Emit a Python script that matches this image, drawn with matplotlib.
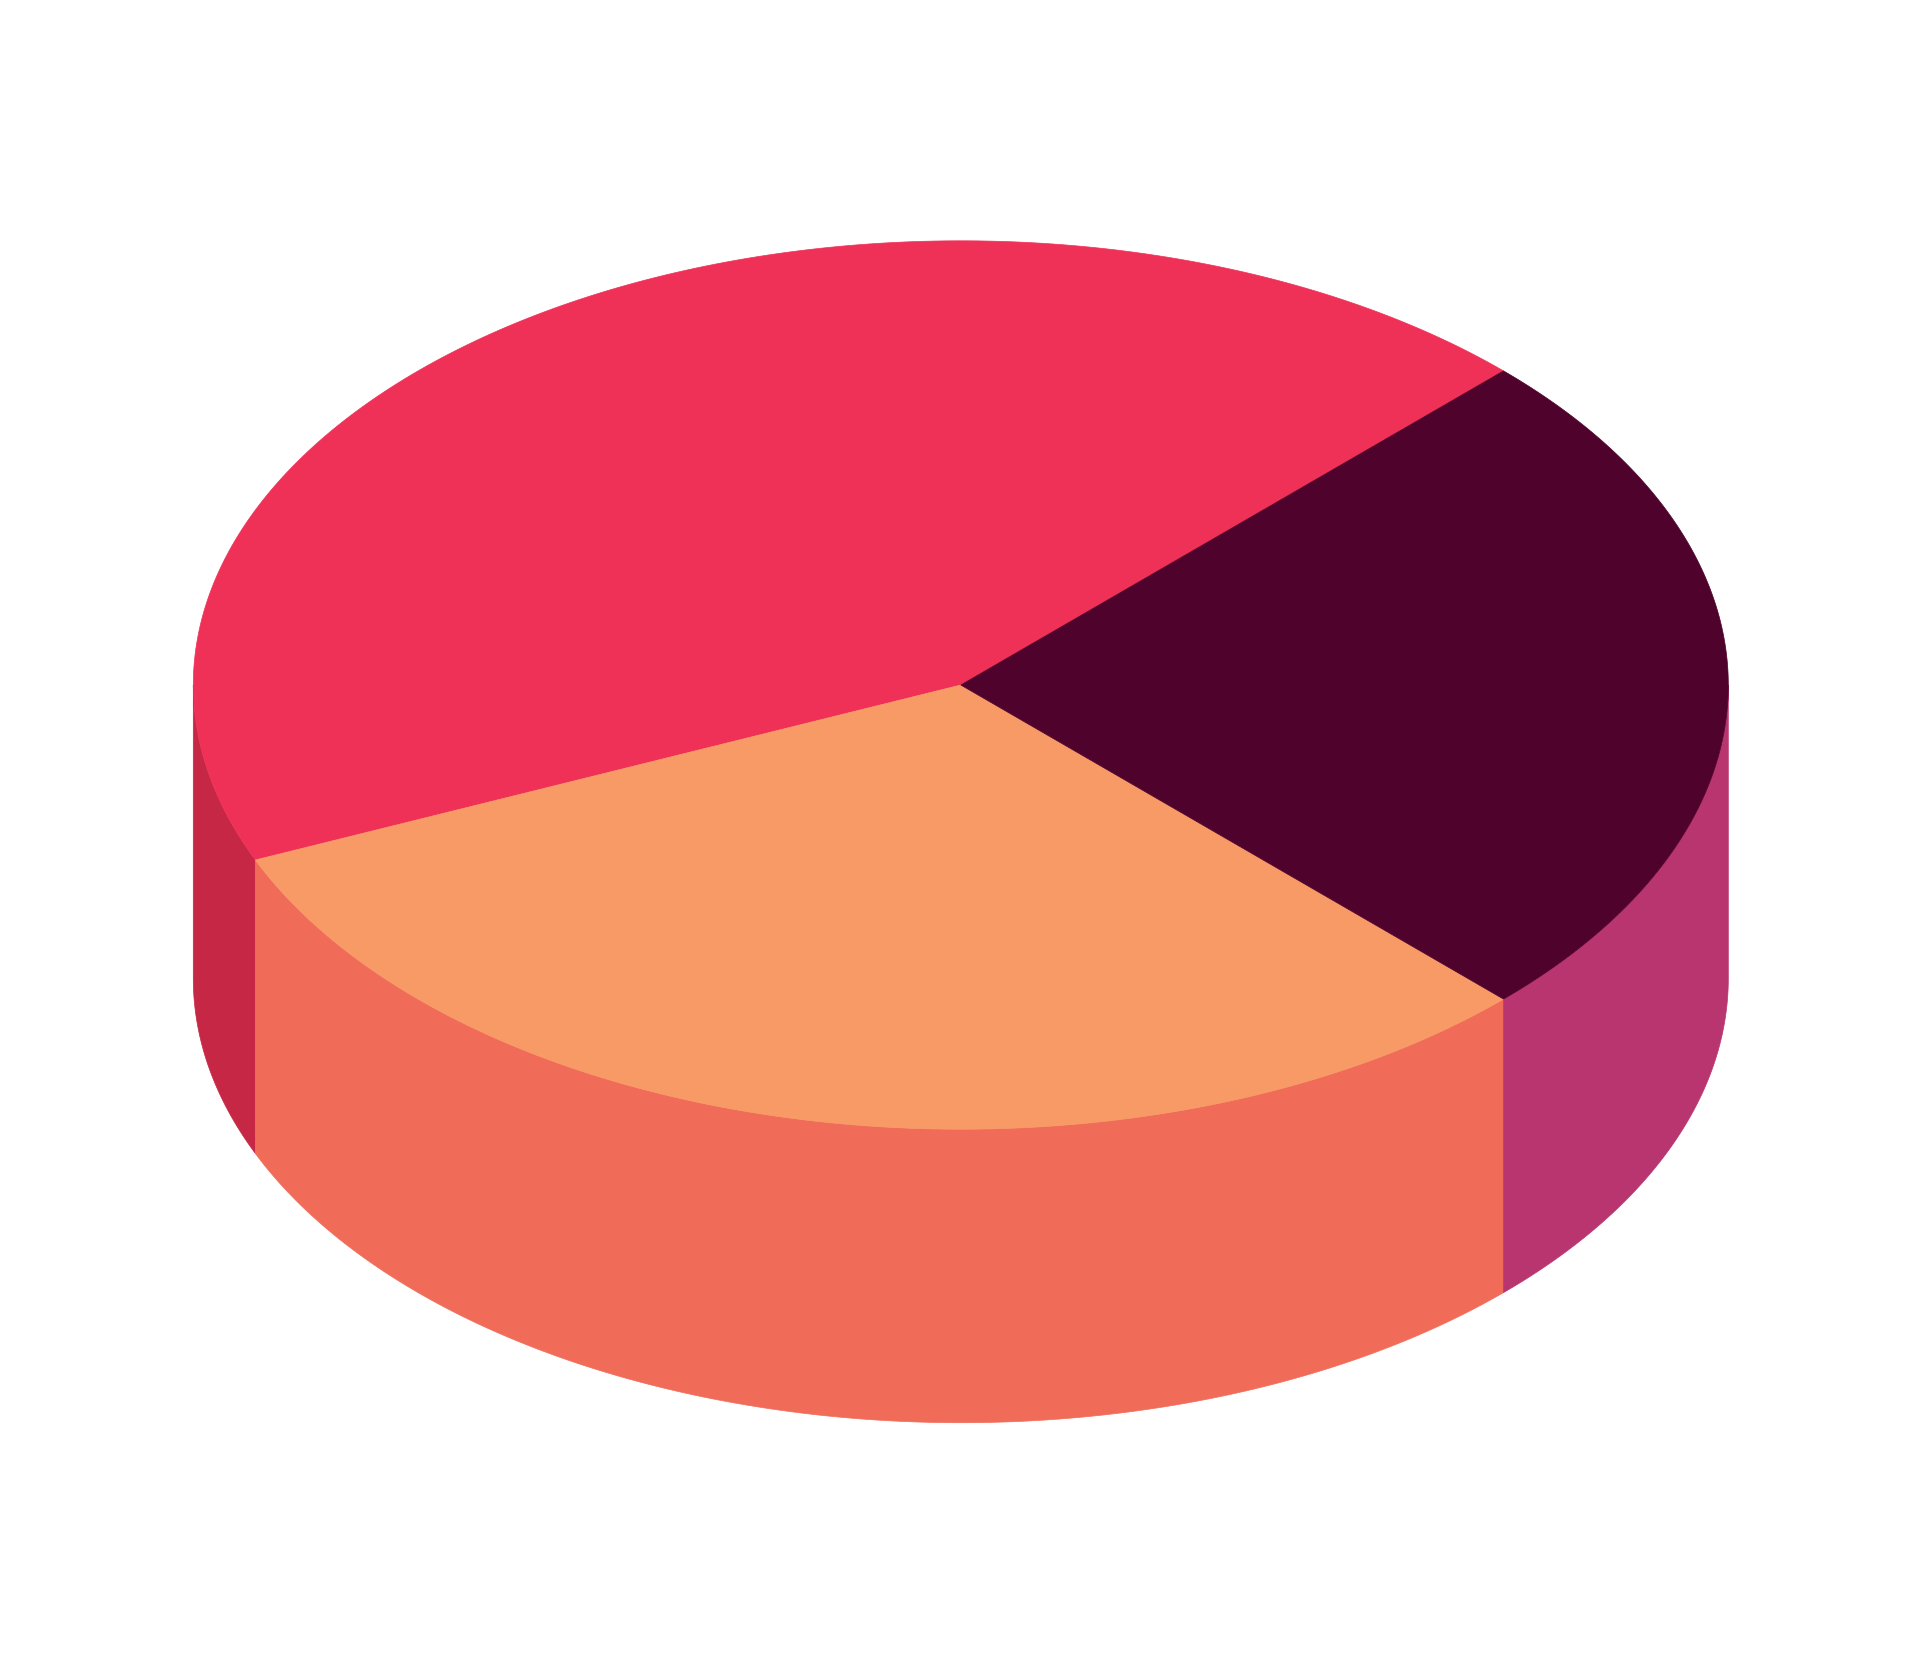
#!/usr/bin/env python3
import numpy as np
import matplotlib
matplotlib.use('Agg')
import matplotlib.pyplot as plt

# slice sizes in degrees, going counter-clockwise from the upper right
slices = ['red', 'orange', 'dark']
values = [158.2, 111.8, 90]
top_colors = ['#EF3158', '#F89A66', '#4F022B']
side_colors = ['#C62744', '#F16B59', '#B93570']

START = 45
CX, CY = 960.8, 685
RX, RY = 767.5, 444.2
DEPTH = 293.5


def arc(a0, a1, n=200):
	t = np.radians(np.linspace(a0, a1, n))
	return CX + RX * np.cos(t), CY - RY * np.sin(t)


fig = plt.figure(figsize=(19.2, 16.64), dpi=100)
ax = fig.add_axes([0, 0, 1, 1])
ax.set_xlim(0, 1920)
ax.set_ylim(1664, 0)
ax.axis('off')

edges = START + np.concatenate([[0], np.cumsum(values)])
for i in range(len(values)):
	a0, a1 = edges[i], edges[i + 1]

	# wall: only the part of the rim that faces the viewer
	w0, w1 = max(a0, 180), min(a1, 360)
	if w0 < w1:
		x, y = arc(w0, w1)
		xs = np.concatenate([x, x[::-1]])
		ys = np.concatenate([y, y[::-1] + DEPTH])
		ax.fill(xs, ys, color=side_colors[i], lw=0.5)

for i in range(len(values)):
	x, y = arc(edges[i], edges[i + 1])
	ax.fill(np.r_[CX, x], np.r_[CY, y], color=top_colors[i], lw=0.5)

fig.savefig('out.png', dpi=100, facecolor='white')
